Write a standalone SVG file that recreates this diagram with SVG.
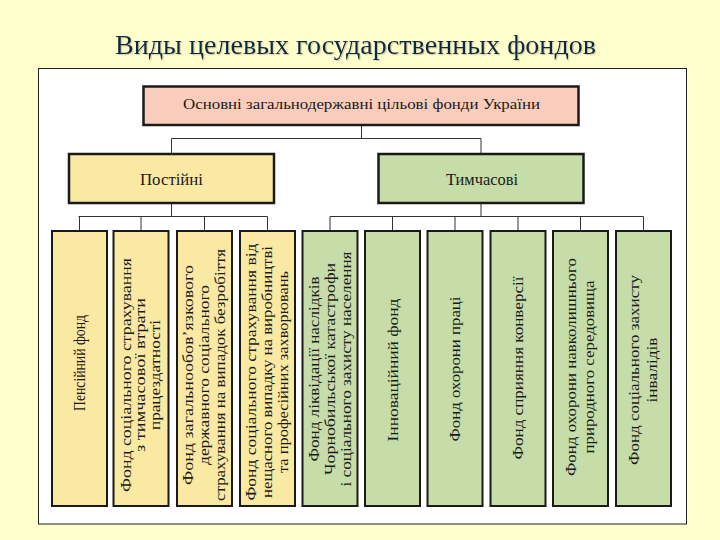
<svg xmlns="http://www.w3.org/2000/svg" width="720" height="540" viewBox="0 0 720 540">
<defs>
<filter id="sh" x="-5%" y="-20%" width="110%" height="150%">
<feDropShadow dx="1.2" dy="1.2" stdDeviation="0.5" flood-color="#9a9a80" flood-opacity="0.45"/>
</filter>
</defs>
<style>
.bg{fill:#FFFFCC}
.frame{fill:#FFFFFF;stroke:#222;stroke-width:1}
.pink{fill:#F9CCBC;stroke:#1a1a1a;stroke-width:2.5}
.yel{fill:#FAE9A2;stroke:#1a1a1a;stroke-width:2.5}
.grn{fill:#C6DDA9;stroke:#1a1a1a;stroke-width:2.5}
.ys{fill:#FAE9A2;stroke:#1a1a1a;stroke-width:2}
.gs{fill:#C6DDA9;stroke:#1a1a1a;stroke-width:2}
.con{stroke:#333;stroke-width:1;fill:none}
.t{font-family:"Liberation Serif","Times New Roman",serif;fill:#1a1a1a;text-anchor:middle}
.h{font-size:15px}
.m{font-size:16px}
.v{font-size:14px}
.v1{font-size:16px}
.title{font-family:"Liberation Serif","Times New Roman",serif;font-size:28px;fill:#0f2a3c;text-anchor:middle}
</style>
<rect class="bg" x="0" y="0" width="720" height="540"/>
<text class="title" x="355.5" y="54" textLength="481" lengthAdjust="spacingAndGlyphs" filter="url(#sh)">Виды целевых государственных фондов</text>
<rect class="frame" x="38.5" y="68.5" width="648" height="455.5"/>

<g id="connectors">
<path class="con" d="M361.5 125V138.5M171.5 138.5H481M171.5 138.5V154M481 138.5V154"/>
<path class="con" d="M171.5 203V216.5M78.5 216.5H267.5M79.5 216.5V231M141 216.5V231M204.5 216.5V231M267.5 216.5V231"/>
<path class="con" d="M481 203V216.5M330 216.5H643.5M330 216.5V231M392.5 216.5V231M455 216.5V231M518 216.5V231M580.5 216.5V231M643.5 216.5V231"/>
</g>

<g id="root">
<rect class="pink" x="143.5" y="86.5" width="435" height="38.5"/>
<text class="t h" x="361.5" y="108.5" textLength="357" lengthAdjust="spacingAndGlyphs">Основні загальнодержавні цільові фонди України</text>
</g>
<g id="permanent">
<rect class="yel" x="69" y="154" width="205" height="49"/>
<text class="t m" x="171.5" y="185" textLength="63" lengthAdjust="spacingAndGlyphs">Постійні</text>
</g>
<g id="temporary">
<rect class="grn" x="378.5" y="154" width="205" height="49"/>
<text class="t m" x="482" y="185" textLength="72" lengthAdjust="spacingAndGlyphs">Тимчасові</text>
</g>

<g id="f1">
<rect class="ys" x="52" y="231" width="55" height="275"/>
<text class="t v1" transform="translate(85,363) rotate(-90)" textLength="96" lengthAdjust="spacingAndGlyphs">Пенсійний фонд</text>
</g>
<g id="f2">
<rect class="ys" x="113.5" y="231" width="55" height="275"/>
<text class="t v" transform="translate(130.5,375) rotate(-90)" textLength="234" lengthAdjust="spacingAndGlyphs">Фонд соціального страхування</text>
<text class="t v" transform="translate(145,375) rotate(-90)" textLength="154" lengthAdjust="spacingAndGlyphs">з тимчасової втрати</text>
<text class="t v" transform="translate(159.5,375) rotate(-90)" textLength="110" lengthAdjust="spacingAndGlyphs">працездатності</text>
</g>
<g id="f3">
<rect class="ys" x="177" y="231" width="55" height="275"/>
<text class="t v" transform="translate(193,375) rotate(-90)" textLength="220" lengthAdjust="spacingAndGlyphs">Фонд загальнообов’язкового</text>
<text class="t v" transform="translate(209,375) rotate(-90)" textLength="180" lengthAdjust="spacingAndGlyphs">державного соціального</text>
<text class="t v" transform="translate(225,375) rotate(-90)" textLength="252" lengthAdjust="spacingAndGlyphs">страхування на випадок безробіття</text>
</g>
<g id="f4">
<rect class="ys" x="240" y="231" width="55" height="275"/>
<text class="t v" transform="translate(256,372) rotate(-90)" textLength="257" lengthAdjust="spacingAndGlyphs">Фонд соціального страхування від</text>
<text class="t v" transform="translate(272,372) rotate(-90)" textLength="252" lengthAdjust="spacingAndGlyphs">нещасного випадку на виробництві</text>
<text class="t v" transform="translate(288,372) rotate(-90)" textLength="202" lengthAdjust="spacingAndGlyphs">та професійних захворювань</text>
</g>
<g id="f5">
<rect class="gs" x="302.5" y="231" width="55" height="275"/>
<text class="t v" transform="translate(318.5,369) rotate(-90)" textLength="185" lengthAdjust="spacingAndGlyphs">Фонд ліквідації наслідків</text>
<text class="t v" transform="translate(334.5,369) rotate(-90)" textLength="212" lengthAdjust="spacingAndGlyphs">Чорнобильської катастрофи</text>
<text class="t v" transform="translate(350.5,369) rotate(-90)" textLength="235" lengthAdjust="spacingAndGlyphs">і соціального захисту населення</text>
</g>
<g id="f6">
<rect class="gs" x="365" y="231" width="55" height="275"/>
<text class="t v" transform="translate(397.5,370) rotate(-90)" textLength="143" lengthAdjust="spacingAndGlyphs">Інноваційний фонд</text>
</g>
<g id="f7">
<rect class="gs" x="427.5" y="231" width="55" height="275"/>
<text class="t v" transform="translate(460,369) rotate(-90)" textLength="145" lengthAdjust="spacingAndGlyphs">Фонд охорони праці</text>
</g>
<g id="f8">
<rect class="gs" x="490.5" y="231" width="55" height="275"/>
<text class="t v" transform="translate(523,368) rotate(-90)" textLength="183" lengthAdjust="spacingAndGlyphs">Фонд сприяння конверсії</text>
</g>
<g id="f9">
<rect class="gs" x="553" y="231" width="55" height="275"/>
<text class="t v" transform="translate(576,367) rotate(-90)" textLength="218" lengthAdjust="spacingAndGlyphs">Фонд охорони навколишнього</text>
<text class="t v" transform="translate(594,367) rotate(-90)" textLength="173" lengthAdjust="spacingAndGlyphs">природного середовища</text>
</g>
<g id="f10">
<rect class="gs" x="616" y="231" width="55" height="275"/>
<text class="t v" transform="translate(639,370) rotate(-90)" textLength="190" lengthAdjust="spacingAndGlyphs">Фонд соціального захисту</text>
<text class="t v" transform="translate(657,370) rotate(-90)" textLength="65" lengthAdjust="spacingAndGlyphs">інвалідів</text>
</g>
</svg>
